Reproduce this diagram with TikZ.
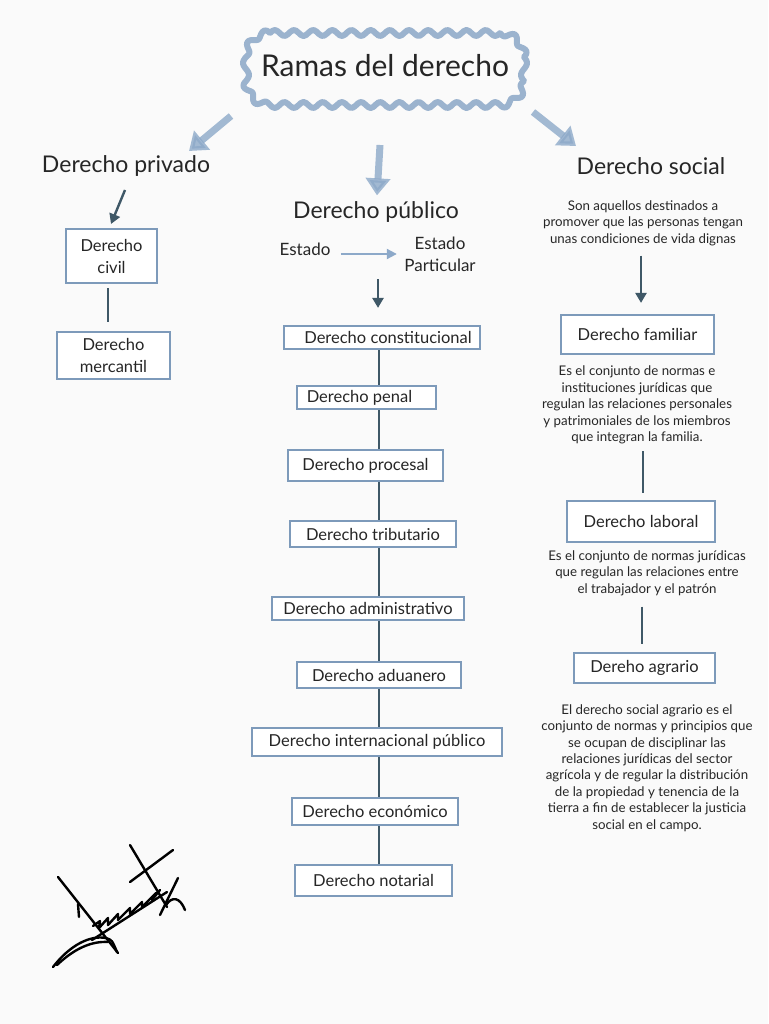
\documentclass[tikz,border=0pt]{standalone}
\usepackage{fontspec}
\setmainfont{Lato}
\usepackage{tikz}
\usetikzlibrary{arrows.meta}
\definecolor{boxcol}{HTML}{7D9ABA}
\definecolor{linkcol}{HTML}{3F5867}
\definecolor{softblue}{HTML}{8DA9C9}
\definecolor{cloudcol}{HTML}{9BB3CE}
\definecolor{inkcol}{HTML}{262626}
\tikzstyle{rama}=[draw=boxcol, line width=2.2pt, fill=white, inner sep=0pt, text=inkcol, font=\fontsize{16.5}{22}\selectfont, align=center]
\tikzstyle{heading}=[text=inkcol, inner sep=1pt, font=\fontsize{23}{27}\selectfont]
\tikzstyle{note}=[text=inkcol, inner sep=1pt, align=center, font=\fontsize{13.3}{16.4}\selectfont]
\tikzstyle{link}=[draw=linkcol, line width=2.4pt]
\tikzstyle{darkarrow}=[link, -{Triangle[length=10pt, width=11pt]}]
\tikzstyle{bigarrow}=[draw=softblue, line width=7pt, opacity=0.8, -{Triangle[length=17pt, width=24pt]}]
\tikzstyle{thinarrow}=[draw=softblue, line width=2pt, -{Triangle[length=10pt, width=10pt]}]

\begin{document}
\begin{tikzpicture}[x=1pt, y=-1pt]
        \fill[white!98!black] (0,0) rectangle (768,1024);
        \useasboundingbox (0,0) rectangle (768,1024);
        % title
        \node[text=inkcol, font=\fontsize{30}{35}\selectfont] (title) at (385, 66) {Ramas del derecho};
        \draw[cloudcol, line width=6pt, line join=round]
              plot[domain=270:500, samples=90, smooth] (\x, {33 - 3*sin(18.78*(\x-270))})
           -- plot[domain=90:0, samples=30, smooth] ({500 + (24+3*sin(8*\x))*cos(\x)}, {57 - (24+3*sin(8*\x))*sin(\x)})
           -- plot[domain=57:81, samples=15, smooth] ({524 + 3*sin(15*(\x-57))}, \x)
           -- plot[domain=0:-90, samples=30, smooth] ({500 + (24+3*sin(8*\x))*cos(\x)}, {81 - (24+3*sin(8*\x))*sin(\x)})
           -- plot[domain=500:270, samples=90, smooth] (\x, {105 + 3*sin(18.78*(\x-270))})
           -- plot[domain=-90:-180, samples=30, smooth] ({270 + (24+3*sin(8*\x))*cos(\x)}, {81 - (24+3*sin(8*\x))*sin(\x)})
           -- plot[domain=81:57, samples=15, smooth] ({246 - 3*sin(15*(\x-57))}, \x)
           -- plot[domain=180:90, samples=30, smooth] ({270 + (24+3*sin(8*\x))*cos(\x)}, {57 - (24+3*sin(8*\x))*sin(\x)})
           -- cycle;
        \node[heading] (privado) at (126, 166) {Derecho privado};
        \node[heading] (publico) at (376, 212) {Derecho público};
        \node[heading] (social)  at (651, 166) {Derecho social};
        \coordinate (privStart) at (231, 116);
        \coordinate (privTip)   at (189, 151);
        \coordinate (pubStart)  at (380, 145);
        \coordinate (socStart)  at (533, 112);
        \coordinate (socTip)    at (576, 146);
        \draw[bigarrow] (privStart) -- (privTip);
        \draw[bigarrow, shorten >=5pt] (pubStart) -- (publico);
        \draw[bigarrow] (socStart) -- (socTip);
        % privado
        \node[rama, minimum width=91pt, minimum height=54pt]  (civil)     at (111.5, 256) {Derecho\\civil};
        \node[rama, minimum width=113pt, minimum height=47pt] (mercantil) at (113.5, 355.5) {Derecho\\mercantil};
        \coordinate (civStart) at (125, 190);
        \coordinate (civTip)   at (111, 224);
        \draw[darkarrow] (civStart) -- (civTip);
        \draw[link, shorten <=4pt, shorten >=9pt] (civil.south -| 108,0) -- (mercantil.north -| 108,0);
        % publico
        \node[text=inkcol, font=\fontsize{17}{22}\selectfont] (estado) at (305, 249) {Estado};
        \node[text=inkcol, align=center, font=\fontsize{17}{22}\selectfont] (estpart) at (440, 254) {Estado\\Particular};
        \draw[thinarrow, shorten <=7pt, shorten >=4pt] (estado.east |- estpart.west) -- (estpart.west);
        \coordinate (spine) at (379, 0);
        \coordinate (consStart) at (378, 279);
        \node[rama, minimum width=196pt, minimum height=23pt] (cons)  at (382, 337.5) {\hspace*{12pt}Derecho constitucional};
        \node[rama, minimum width=139pt, minimum height=23pt] (penal) at (366.5, 397.5) {Derecho penal\hspace*{14pt}};
        \node[rama, minimum width=155pt, minimum height=31pt] (proc)  at (365.5, 465.5) {Derecho procesal};
        \node[rama, minimum width=166pt, minimum height=26pt] (trib)  at (373, 534) {Derecho tributario};
        \node[rama, minimum width=192pt, minimum height=23pt] (admin) at (368, 608.5) {Derecho administrativo};
        \node[rama, minimum width=164pt, minimum height=26pt] (adua)  at (379, 675) {Derecho aduanero};
        \node[rama, minimum width=250pt, minimum height=28pt] (inter) at (377, 742) {Derecho internacional público};
        \node[rama, minimum width=166pt, minimum height=27pt] (econ)  at (375, 811.5) {Derecho económico};
        \node[rama, minimum width=157pt, minimum height=31pt] (notar) at (373.5, 880.5) {Derecho notarial};
        \draw[darkarrow, shorten >=17pt] (consStart) -- (cons.north -| consStart);
        \draw[link] (cons.south -| spine) -- (penal.north -| spine);
        \draw[link] (penal.south -| spine) -- (proc.north -| spine);
        \draw[link] (proc.south -| spine) -- (trib.north -| spine);
        \draw[link] (trib.south -| spine) -- (admin.north -| spine);
        \draw[link] (admin.south -| spine) -- (adua.north -| spine);
        \draw[link] (adua.south -| spine) -- (inter.north -| spine);
        \draw[link] (inter.south -| spine) -- (econ.north -| spine);
        \draw[link] (econ.south -| spine) -- (notar.north -| spine);
        % social
        \node[note] (socdesc) at (643, 223) {Son aquellos destinados a\\promover que las personas tengan\\unas condiciones de vida dignas};
        \node[rama, minimum width=153pt, minimum height=39pt] (familiar) at (637.5, 334.5) {Derecho familiar};
        \node[note] (famdesc) at (637, 405) {Es el conjunto de normas e\\instituciones jurídicas que\\regulan las relaciones personales\\y patrimoniales de los miembros\\que integran la familia.};
        \node[rama, minimum width=148pt, minimum height=41pt] (laboral) at (641, 521.5) {Derecho laboral};
        \node[note] (labdesc) at (647, 573) {Es el conjunto de normas jurídicas\\que regulan las relaciones entre\\el trabajador y el patrón};
        \node[rama, minimum width=141pt, minimum height=30pt] (agrario) at (644.5, 668) {Dereho agrario};
        \node[note] (agrdesc) at (647, 768) {El derecho social agrario es el\\conjunto de normas y principios que\\se ocupan de disciplinar las\\relaciones jurídicas del sector\\agrícola y de regular la distribución\\de la propiedad y tenencia de la\\tierra a fin de establecer la justicia\\social en el campo.};
        \draw[darkarrow, shorten <=9pt, shorten >=11pt] (socdesc.south -| 641,0) -- (familiar.north -| 641,0);
        \draw[link, shorten <=6pt, shorten >=7pt] (famdesc.south -| 643,0) -- (laboral.north -| 643,0);
        \draw[link, shorten <=10pt, shorten >=8pt] (labdesc.south -| 642,0) -- (agrario.north -| 642,0);
        % firma
        \begin{scope}[draw=black, line width=2.4pt, line cap=round, line join=round]
          \draw (58, 877) -- (118, 953);
          \draw (78, 904) -- (79, 917);
          \draw (53, 967) .. controls (70, 945) and (90, 935) .. (106, 938) .. controls (112, 940) .. (117, 952);
          \draw (57, 965) .. controls (75, 948) and (92, 941) .. (108, 942);
          \draw (92, 940) -- (167, 892);
          \draw (93, 926) -- (100, 921) -- (99, 928) -- (108, 918) -- (108, 925) -- (118, 914) -- (118, 920) -- (130, 908) -- (130, 914) -- (142, 902) -- (142, 907) -- (156, 893) -- (152, 900) -- (160, 890);
          \draw (130, 845) -- (167, 907);
          \draw (130, 882) -- (173, 850);
          \draw (160, 915) -- (178, 878);
          \draw (166, 905) .. controls (172, 896) and (180, 897) .. (185, 910);
        \end{scope}
    \end{tikzpicture}
\end{document}
